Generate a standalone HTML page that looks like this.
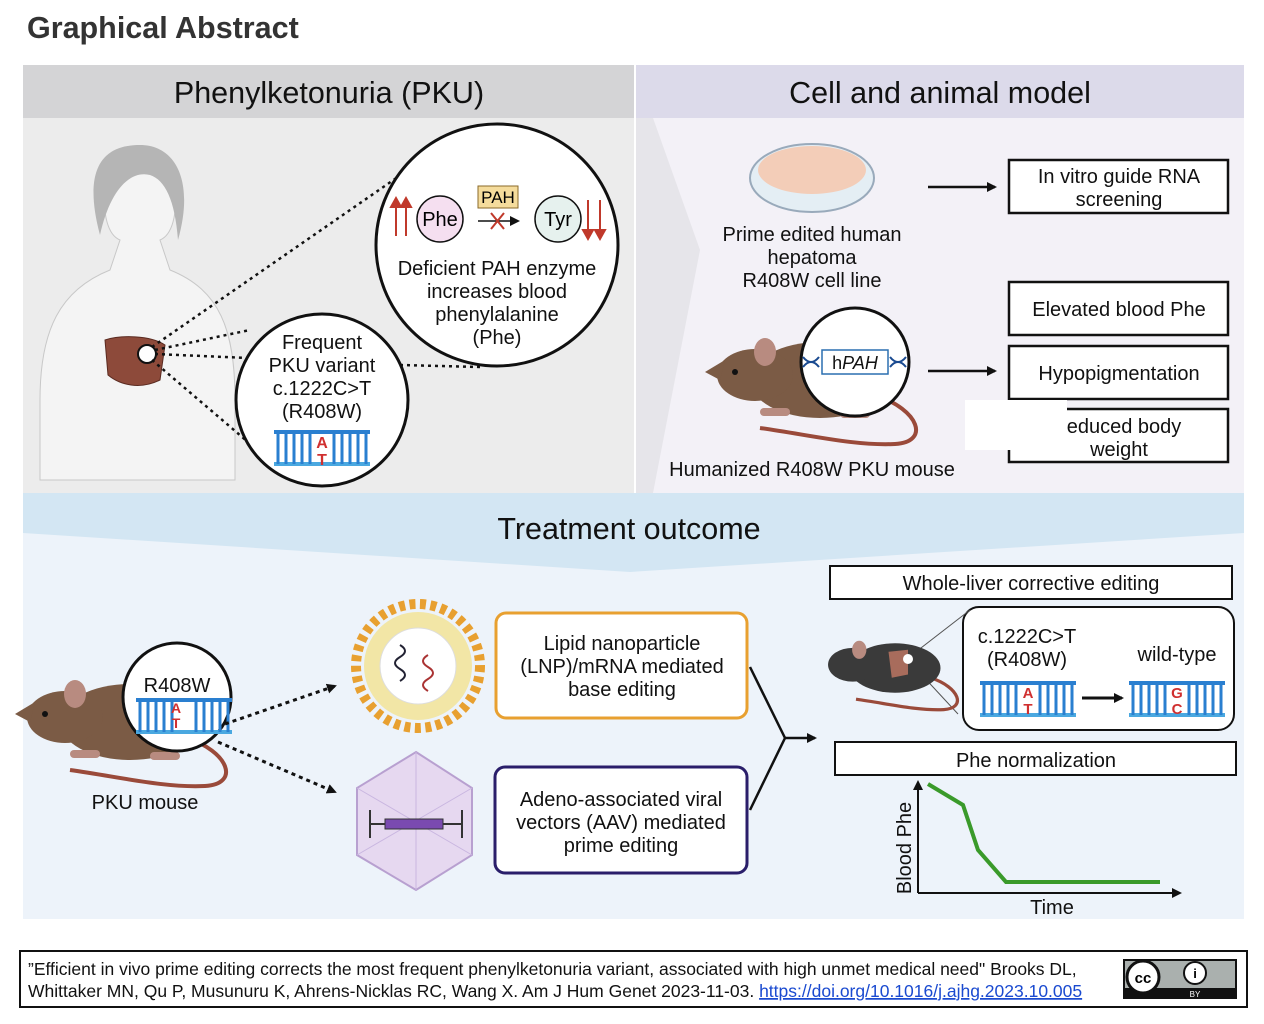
<!DOCTYPE html>
<html><head><meta charset="utf-8"><style>
html,body{margin:0;padding:0;background:#fff;}
svg{display:block;font-family:"Liberation Sans",sans-serif;}
</style></head><body>
<svg width="1264" height="1024" viewBox="0 0 1264 1024" xmlns="http://www.w3.org/2000/svg">
<defs>
<g id="dna">
 <rect x="0" y="0" width="96" height="4" fill="#2a7fd0"/>
 <rect x="0" y="32" width="96" height="4" fill="#4aa8e0"/>
 <g stroke="#2a7fd0" stroke-width="3">
  <line x1="4" y1="2" x2="4" y2="34"/><line x1="12" y1="2" x2="12" y2="34"/><line x1="20" y1="2" x2="20" y2="34"/><line x1="28" y1="2" x2="28" y2="34"/><line x1="36" y1="2" x2="36" y2="34"/>
  <line x1="60" y1="2" x2="60" y2="34"/><line x1="68" y1="2" x2="68" y2="34"/><line x1="76" y1="2" x2="76" y2="34"/><line x1="84" y1="2" x2="84" y2="34"/><line x1="92" y1="2" x2="92" y2="34"/>
 </g>
</g>
<marker id="ah" markerWidth="10" markerHeight="10" refX="8" refY="5" orient="auto" markerUnits="userSpaceOnUse"><path d="M0,0 L10,5 L0,10 z" fill="#111"/></marker>
<g id="mouse">
 <path d="M55,15 C100,30 110,62 75,64 C35,66 -10,55 -60,48" stroke="#9a4a3a" stroke-width="4" fill="none"/>
 <ellipse cx="0" cy="0" rx="70" ry="38" fill="#7b5b45"/>
 <ellipse cx="-65" cy="-5" rx="38" ry="26" fill="#7b5b45"/>
 <path d="M-100,0 L-115,-8 L-95,-20 z" fill="#7b5b45"/>
 <ellipse cx="-55" cy="-28" rx="11" ry="14" fill="#b88b80"/>
 <circle cx="-85" cy="-8" r="3" fill="#111"/>
 <rect x="-60" y="28" width="30" height="8" rx="4" fill="#b88b80"/>
 <rect x="20" y="30" width="30" height="8" rx="4" fill="#b88b80"/>
</g>
</defs>

<text x="27" y="38" font-size="30.5" font-weight="bold" fill="#333">Graphical Abstract</text>

<!-- Panel 1 -->
<rect x="23" y="65" width="611" height="428" fill="#ececec"/>
<rect x="23" y="65" width="611" height="53" fill="#d4d4d6"/>
<text x="329" y="103" font-size="30.5" text-anchor="middle" fill="#111">Phenylketonuria (PKU)</text>
<path d="M40,480 L40,400 C40,330 60,290 110,270 L120,240 C95,230 100,150 140,155 C180,150 185,230 160,240 L170,270 C220,290 235,330 235,400 L235,480 z" fill="#f4f4f4" stroke="#c8c8c8"/>
<path d="M100,235 C80,160 110,145 140,145 C175,145 195,180 178,240 C175,200 165,180 150,175 C130,170 110,190 100,235 z" fill="#b5b5b5"/>
<path d="M105,340 C120,335 150,335 165,345 L160,380 C140,390 120,385 108,375 z" fill="#8d4a3a" stroke="#5a2a20"/>
<circle cx="147" cy="354" r="9" fill="#fff" stroke="#111" stroke-width="2"/>
<g stroke="#111" stroke-width="2.5" stroke-dasharray="3,4" fill="none">
<line x1="152" y1="347" x2="405" y2="172"/>
<line x1="155" y1="350" x2="250" y2="330"/>
<line x1="155" y1="354" x2="248" y2="358"/>
<line x1="152" y1="360" x2="248" y2="442"/>
<line x1="400" y1="365" x2="480" y2="367"/>
</g>
<circle cx="497" cy="245" r="121" fill="#fff" stroke="#111" stroke-width="3"/>
<circle cx="322" cy="400" r="86" fill="#fff" stroke="#111" stroke-width="3"/>
<g fill="#c0392b" stroke="#c0392b" stroke-width="2">
<line x1="396" y1="236" x2="396" y2="205"/><path d="M391,207 L396,198 L401,207z"/>
<line x1="406" y1="236" x2="406" y2="205"/><path d="M401,207 L406,198 L411,207z"/>
<line x1="588" y1="200" x2="588" y2="232"/><path d="M583,230 L588,239 L593,230z"/>
<line x1="600" y1="200" x2="600" y2="232"/><path d="M595,230 L600,239 L605,230z"/>
</g>
<circle cx="440" cy="219" r="23" fill="#f5dff0" stroke="#111" stroke-width="1.5"/>
<text x="440" y="226" font-size="20" text-anchor="middle">Phe</text>
<circle cx="558" cy="219" r="23" fill="#e6f1ee" stroke="#111" stroke-width="1.5"/>
<text x="558" y="226" font-size="20" text-anchor="middle">Tyr</text>
<rect x="478" y="186" width="40" height="22" fill="#f5dc9c" stroke="#8a6a2a"/>
<text x="498" y="203" font-size="17" text-anchor="middle">PAH</text>
<line x1="478" y1="221" x2="518" y2="221" stroke="#111" stroke-width="1.5" marker-end="url(#ah)"/>
<path d="M491,213 L504,229 M504,213 L491,229" stroke="#c0392b" stroke-width="2"/>
<g font-size="20" text-anchor="middle" fill="#111">
<text x="497" y="275">Deficient PAH enzyme</text>
<text x="497" y="298">increases blood</text>
<text x="497" y="321">phenylalanine</text>
<text x="497" y="344">(Phe)</text>
<text x="322" y="349">Frequent</text>
<text x="322" y="372">PKU variant</text>
<text x="322" y="395">c.1222C&gt;T</text>
<text x="322" y="418">(R408W)</text>
</g>
<use href="#dna" x="274" y="430"/>
<text x="322" y="448" font-size="16" font-weight="bold" fill="#d03030" text-anchor="middle">A</text>
<text x="322" y="465" font-size="16" font-weight="bold" fill="#d03030" text-anchor="middle">T</text>

<!-- Panel 2 -->
<rect x="636" y="65" width="608" height="428" fill="#f3f1f7"/>
<path d="M636,118 L653,118 L700,250 L653,493 L636,493 z" fill="#e6e5ea"/>
<rect x="636" y="65" width="608" height="53" fill="#dcdaea"/>
<text x="940" y="103" font-size="30.5" text-anchor="middle" fill="#111">Cell and animal model</text>
<ellipse cx="812" cy="178" rx="62" ry="34" fill="#e4eef4" stroke="#9ab" stroke-width="2"/>
<ellipse cx="812" cy="170" rx="54" ry="24" fill="#f3cdb8"/>
<g font-size="20" text-anchor="middle" fill="#111">
<text x="812" y="241">Prime edited human</text>
<text x="812" y="264">hepatoma</text>
<text x="812" y="287">R408W cell line</text>
</g>
<line x1="928" y1="187" x2="995" y2="187" stroke="#111" stroke-width="2.5" marker-end="url(#ah)"/>
<line x1="928" y1="371" x2="995" y2="371" stroke="#111" stroke-width="2.5" marker-end="url(#ah)"/>
<g fill="#fff" stroke="#111" stroke-width="2.5">
<rect x="1009" y="160" width="219" height="53"/>
<rect x="1009" y="282" width="219" height="53"/>
<rect x="1009" y="346" width="219" height="53"/>
<rect x="1009" y="409" width="219" height="53"/>
</g>
<rect x="965" y="400" width="102" height="50" fill="#fff"/>
<g font-size="20" text-anchor="middle" fill="#111">
<text x="1119" y="183">In vitro guide RNA</text>
<text x="1119" y="206">screening</text>
<text x="1119" y="316">Elevated blood Phe</text>
<text x="1119" y="380">Hypopigmentation</text>
<text x="1124" y="433">educed body</text>
<text x="1119" y="456">weight</text>
</g>
<use href="#mouse" x="820" y="380"/>
<circle cx="855" cy="362" r="54" fill="#fff" stroke="#111" stroke-width="3"/>
<rect x="822" y="350" width="66" height="24" fill="#fff" stroke="#2a6fb0" stroke-width="1.5"/>
<path d="M803,357 q8,10 16,0 M803,367 q8,-10 16,0 M890,357 q8,10 16,0 M890,367 q8,-10 16,0" stroke="#1a4a90" stroke-width="2" fill="none"/>
<text x="855" y="369" font-size="18" text-anchor="middle" fill="#111">h<tspan font-style="italic">PAH</tspan></text>
<text x="812" y="476" font-size="20" text-anchor="middle" fill="#111">Humanized R408W PKU mouse</text>

<!-- Bottom panel -->
<rect x="23" y="493" width="1221" height="426" fill="#edf3fa"/>
<path d="M23,493 L1244,493 L1244,533 L630,572 L23,533 z" fill="#d3e6f3"/>
<text x="629" y="539" font-size="30.5" text-anchor="middle" fill="#111">Treatment outcome</text>
<use href="#mouse" x="130" y="722"/>
<circle cx="177" cy="697" r="54" fill="#fff" stroke="#111" stroke-width="3"/>
<text x="177" y="692" font-size="20" text-anchor="middle" fill="#111">R408W</text>
<use href="#dna" x="136" y="698"/>
<text x="176" y="713" font-size="14" font-weight="bold" fill="#d03030" text-anchor="middle">A</text>
<text x="176" y="728" font-size="14" font-weight="bold" fill="#d03030" text-anchor="middle">T</text>
<text x="145" y="809" font-size="20" text-anchor="middle" fill="#111">PKU mouse</text>
<g stroke="#111" stroke-width="3" stroke-dasharray="4,4">
<line x1="225" y1="724" x2="335" y2="686" marker-end="url(#ah)"/>
<line x1="218" y1="742" x2="335" y2="792" marker-end="url(#ah)"/>
</g>
<circle cx="418" cy="666" r="62" fill="none" stroke="#e8a030" stroke-width="10" stroke-dasharray="6,4.5"/>
<circle cx="418" cy="666" r="54" fill="#f2e6a6"/>
<circle cx="418" cy="666" r="38" fill="#fff" stroke="#ddd"/>
<path d="M400,645 q10,6 0,12 q-10,6 0,12 q10,6 0,12" stroke="#223" stroke-width="2" fill="none"/>
<path d="M428,655 q-10,6 0,12 q10,6 0,12 q-10,6 0,12" stroke="#a33" stroke-width="2" fill="none"/>
<polygon points="416,752 472,788 472,855 416,890 357,855 357,788" fill="#e6d8f0" stroke="#b8a0d0" stroke-width="2"/>
<path d="M416,752 L416,890 M357,788 L472,855 M472,788 L357,855" stroke="#c9b6e0" stroke-width="1"/>
<rect x="385" y="819" width="58" height="10" fill="#7a4ab0" stroke="#333"/>
<path d="M370,810 L370,838 M462,810 L462,838 M370,824 L385,824 M443,824 L462,824" stroke="#333" stroke-width="2"/>
<rect x="496" y="613" width="251" height="105" rx="10" fill="#fff" stroke="#e8a030" stroke-width="3"/>
<rect x="495" y="767" width="252" height="106" rx="10" fill="#fff" stroke="#2a1e6a" stroke-width="3"/>
<g font-size="20" text-anchor="middle" fill="#111">
<text x="622" y="650">Lipid nanoparticle</text>
<text x="622" y="673">(LNP)/mRNA mediated</text>
<text x="622" y="696">base editing</text>
<text x="621" y="806">Adeno-associated viral</text>
<text x="621" y="829">vectors (AAV) mediated</text>
<text x="621" y="852">prime editing</text>
</g>
<path d="M750,667 L785,738 L750,810" stroke="#111" stroke-width="2.5" fill="none"/>
<line x1="785" y1="738" x2="815" y2="738" stroke="#111" stroke-width="2.5" marker-end="url(#ah)"/>
<rect x="830" y="566" width="402" height="33" fill="#fff" stroke="#111" stroke-width="2"/>
<text x="1031" y="590" font-size="20" text-anchor="middle" fill="#111">Whole-liver corrective editing</text>
<rect x="963" y="607" width="271" height="123" rx="16" fill="#fff" stroke="#111" stroke-width="2"/>
<path d="M908,658 L970,610 M908,660 L958,714" stroke="#555" stroke-width="1"/>
<g transform="translate(895,668) scale(0.65)">
<path d="M55,15 C100,30 110,62 75,64 C35,66 -10,55 -60,48" stroke="#9a4a3a" stroke-width="5" fill="none"/>
<ellipse cx="0" cy="0" rx="70" ry="38" fill="#3a3a3a"/>
<ellipse cx="-65" cy="-5" rx="38" ry="26" fill="#3a3a3a"/>
<ellipse cx="-55" cy="-28" rx="11" ry="14" fill="#b88b80"/>
<path d="M-10,-25 L20,-28 L20,10 L-5,15 z" fill="#a86c5c"/>
</g>
<circle cx="908" cy="659" r="5" fill="#fff"/>
<use href="#dna" x="980" y="681"/>
<text x="1028" y="698" font-size="15" font-weight="bold" fill="#d03030" text-anchor="middle">A</text>
<text x="1028" y="714" font-size="15" font-weight="bold" fill="#d03030" text-anchor="middle">T</text>
<use href="#dna" x="1129" y="681"/>
<text x="1177" y="698" font-size="15" font-weight="bold" fill="#d03030" text-anchor="middle">G</text>
<text x="1177" y="714" font-size="15" font-weight="bold" fill="#d03030" text-anchor="middle">C</text>
<line x1="1082" y1="698" x2="1122" y2="698" stroke="#111" stroke-width="3" marker-end="url(#ah)"/>
<rect x="835" y="742" width="401" height="33" fill="#fff" stroke="#111" stroke-width="2"/>
<line x1="918" y1="893" x2="918" y2="782" stroke="#111" stroke-width="2" marker-end="url(#ah)"/>
<line x1="918" y1="893" x2="1180" y2="893" stroke="#111" stroke-width="2" marker-end="url(#ah)"/>
<polyline points="928,784 963,805 978,850 1006,882 1160,882" stroke="#3a9a2a" stroke-width="4" fill="none"/>
<g font-size="20" text-anchor="middle" fill="#111">
<text x="1027" y="643">c.1222C&gt;T</text>
<text x="1027" y="666">(R408W)</text>
<text x="1177" y="661">wild-type</text>
<text x="1036" y="767">Phe normalization</text>
<text x="1052" y="914">Time</text>
<text transform="translate(911,848) rotate(-90)">Blood Phe</text>
</g>

<rect x="20" y="951" width="1227" height="56" fill="#fff" stroke="#111" stroke-width="2"/>
<text x="28" y="975" font-size="17.5" fill="#111">”Efficient in vivo prime editing corrects the most frequent phenylketonuria variant, associated with high unmet medical need" Brooks DL,</text>
<text x="28" y="997" font-size="17.5" fill="#111">Whittaker MN, Qu P, Musunuru K, Ahrens-Nicklas RC, Wang X.  Am J Hum Genet 2023-11-03. <tspan fill="#1a4ad0" text-decoration="underline">https://doi.org/10.1016/j.ajhg.2023.10.005</tspan></text>
<rect x="1124" y="960" width="112" height="38" fill="#aab0ae" stroke="#111" stroke-width="2"/>
<rect x="1124" y="988" width="112" height="10" fill="#111"/>
<circle cx="1143" cy="977" r="16" fill="#fff" stroke="#111" stroke-width="3"/>
<text x="1143" y="983" font-size="15" font-weight="bold" text-anchor="middle">cc</text>
<circle cx="1195" cy="973" r="11" fill="#fff" stroke="#111" stroke-width="2"/>
<text x="1195" y="978" font-size="13" font-weight="bold" text-anchor="middle">i</text>
<text x="1195" y="997" font-size="8" fill="#fff" text-anchor="middle">BY</text>
</svg>
</body></html>
